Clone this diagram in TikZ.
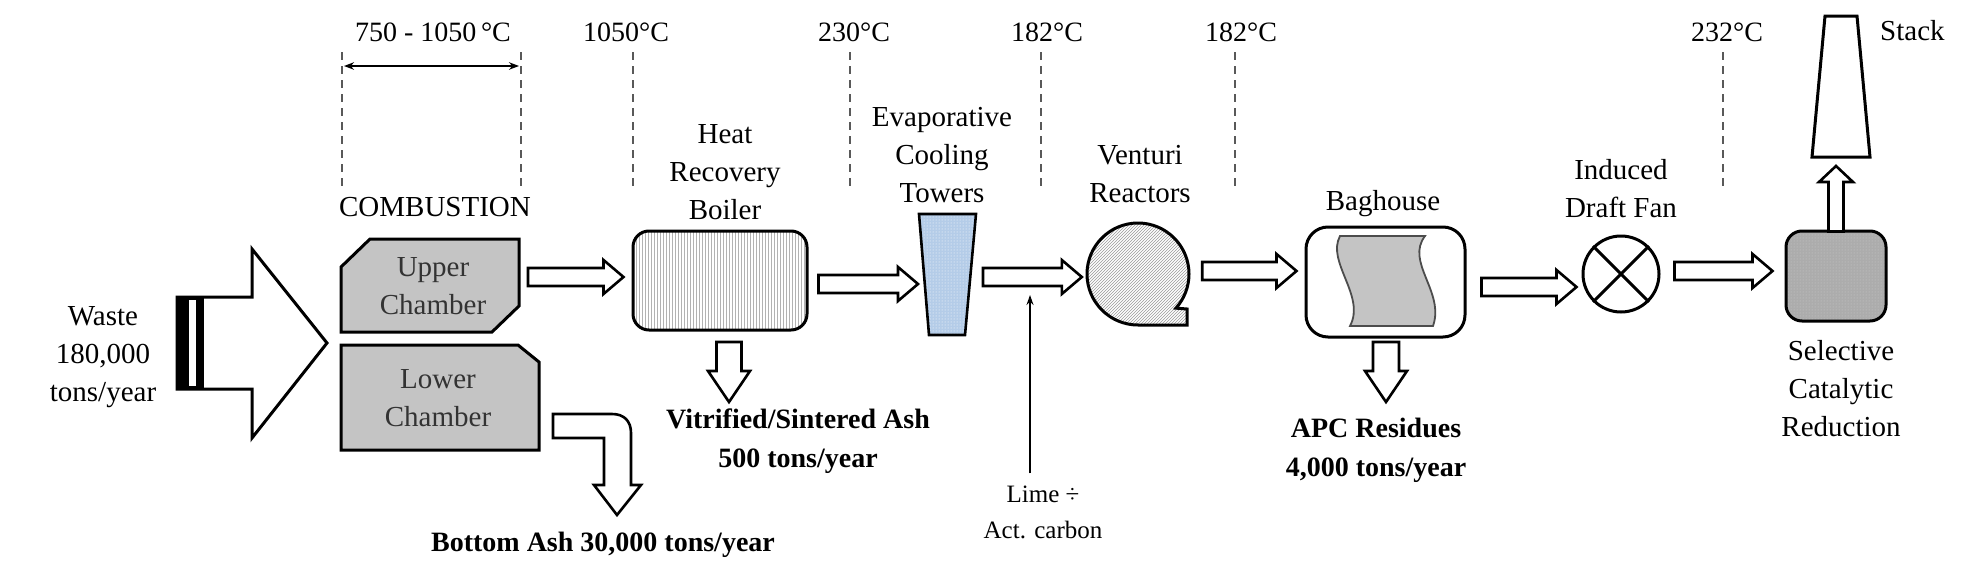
\documentclass[tikz,border=0pt]{standalone}
\usepackage{fontspec}
\setmainfont{Liberation Serif}
\usetikzlibrary{calc,patterns,arrows.meta}
\newcommand\hblk[2]{\draw[blk] let \p1=#1, \p2=#2 in (\x1,\y1+9pt) -- (\x2-20pt,\y1+9pt) -- (\x2-20pt,\y1+17pt) -- (\x2,\y1) -- (\x2-20pt,\y1-17pt) -- (\x2-20pt,\y1-9pt) -- (\x1,\y1-9pt) -- cycle;}
% start, tip, shaft half, head half, signed head length
\newcommand\vblk[5]{\draw[blk] let \p1=#1, \p2=#2 in (\x1-#3,\y1) -- (\x1-#3,\y2+#5) -- (\x1-#4,\y2+#5) -- (\x1,\y2) -- (\x1+#4,\y2+#5) -- (\x1+#3,\y2+#5) -- (\x1+#3,\y1) -- cycle;}
\definecolor{chgray}{HTML}{C4C4C4}
\definecolor{tblue}{HTML}{B4CCE8}
\begin{document}
\begin{tikzpicture}[x=1pt,y=-1pt,
  lbl/.style={font=\fontsize{29}{38}\selectfont,align=center,inner sep=0pt},
  tmp/.style={font=\fontsize{28}{34}\selectfont,inner sep=0pt},
  ash/.style={font=\fontsize{28}{39}\selectfont\bfseries,align=center,inner sep=0pt},
  blk/.style={draw=black,line width=2.6pt,fill=white,line join=miter},
  shp/.style={draw=black,line width=3pt},
  dsh/.style={line width=1.6pt,dash pattern=on 8pt off 6pt,gray!70!black}]
\useasboundingbox (0,0) rectangle (1982,565);
% temperatures
\node[tmp] (t1) at (433,32) {750 - 1050\,°C};
\node[tmp] (t2) at (626,32) {1050°C};
\node[tmp] (t3) at (854,32) {230°C};
\node[tmp] (t4) at (1047,32) {182°C};
\node[tmp] (t5) at (1241,32) {182°C};
\node[tmp] (t6) at (1727,32) {232°C};
\foreach \n/\x in {a/342,b/521,c/633,d/850,e/1041,f/1235,g/1723}{
  \coordinate (d\n1) at (\x,52); \coordinate (d\n2) at (\x,189);
  \draw[dsh] (d\n1) -- (d\n2);}
\draw[line width=1.6pt,{Stealth[length=10pt]}-{Stealth[length=10pt]}] ($(da1)+(2,14)$) -- ($(db1)+(-2,14)$);
\node[lbl] (comb) at (435,207) {COMBUSTION};
% waste
\node[lbl] (waste) at (103,357) {Waste\\180,000\\tons/year};
\draw[shp,fill=white,line join=miter] (177,297) -- (252,297) -- (252,249) -- (327,343) -- (252,438) -- (252,389) -- (177,389) -- cycle;
\fill (177,297) rectangle (204,389);
\fill[white] (189,300) rectangle (196,386);
% chambers
\draw[shp,fill=chgray] (341,267) -- (370,239) -- (519,239) -- (519,306) -- (492,332) -- (341,332) -- cycle;
\node[lbl,text=black!80] (up) at (433,286) {Upper\\Chamber};
\draw[shp,fill=chgray] (341,345) -- (518,345) -- (539,362) -- (539,450) -- (341,450) -- cycle;
\node[lbl,text=black!80] (low) at (438,398) {Lower\\Chamber};
\coordinate (upE) at (528,277);
% boiler
\node[shp,rounded corners=16pt,minimum width=174pt,minimum height=99pt,preaction={fill=white},pattern=vertical lines,pattern color=gray!60] (boil) at (720,280.5) {};
\node[lbl] (boilt) at (725,172) {Heat\\Recovery\\Boiler};
% tower
\draw[shp,line width=2.6pt,preaction={fill=tblue},pattern=dots,pattern color=white] (919,214) -- (976,214) -- (965,335) -- (929,335) -- cycle;
\coordinate (towW) at (918,277); \coordinate (towE) at (983,277);
\node[lbl] (towt) at (942,155) {Evaporative\\Cooling\\Towers};
% venturi
\node[circle,minimum size=102pt,inner sep=0pt] (ven) at (1138,274) {};
\begin{scope}[shift={(1138,274)},y=1pt]
\draw[shp,line join=miter,preaction={fill=white},pattern=north east lines,pattern color=gray!80] (0,-51) arc[start angle=-90,end angle=-402,radius=51] -- (49,-35) -- (49,-51) -- cycle;
\end{scope}
\node[lbl] (vent) at (1140,174) {Venturi\\Reactors};
% lime
\node[lbl,font=\fontsize{25}{36}\selectfont] (lime) at (1043,512) {Lime ÷\\Act. carbon};
\draw[line width=1.3pt,-{Stealth[length=10pt,width=7pt]}] ($(lime.north)+(-13,-12)$) -- (1030,295);
% baghouse
\node[shp,rounded corners=22pt,minimum width=159pt,minimum height=110pt,fill=white] (bag) at (1385.5,282) {};
\draw[line width=1.8pt,black!70,fill=chgray] (1340,236) -- (1425,236) .. controls (1405,262) and (1445,292) .. (1433,326) -- (1350,326) .. controls (1366,296) and (1326,262) .. cycle;
\node[lbl] (bagt) at (1383,204) {Baghouse};
% fan
\node[shp,circle,minimum size=76pt,inner sep=0pt,fill=white] (fan) at (1621,274) {};
\draw[line width=3pt] (fan.45) -- (fan.225) (fan.135) -- (fan.315);
\node[lbl] (fant) at (1621,189) {Induced\\Draft Fan};
% SCR
\node[shp,rounded corners=16pt,minimum width=100pt,minimum height=90pt,preaction={fill=gray!65},pattern=dots,pattern color=gray!40] (scr) at (1836,276) {};
\node[lbl] (scrt) at (1841,389) {Selective\\Catalytic\\Reduction};
% stack
\draw[shp] (1825,16) -- (1857,16) -- (1870,157) -- (1812,157) -- cycle;
\coordinate (stk) at (1839,166);
\node[lbl,anchor=west] (stkt) at (1880,31) {Stack};
% flow arrows
\hblk{(upE)}{([xshift=-8]boil.west)}
\hblk{([xshift=10,yshift=-3.5]boil.east)}{(towW)}
\hblk{(towE)}{([xshift=-5,yshift=3]ven.west)}
\hblk{([xshift=13,yshift=3]ven.east)}{([xshift=-8,yshift=-5]bag.west)}
\hblk{([xshift=15,yshift=-5]bag.east)}{([xshift=-5,yshift=3]fan.west)}
\hblk{([xshift=14,yshift=3]fan.east)}{([xshift=-12,yshift=1]scr.west)}
\vblk{(729,342)}{(729,402)}{12.5pt}{21pt}{31pt}
\vblk{(1386,342)}{(1386,402)}{13pt}{21pt}{31pt}
\vblk{([yshift=-2]scr.north)}{(stk)}{7.5pt}{17pt}{-16pt}
% bottom ash bent arrow
\draw[blk] (553,414) -- (612,414) .. controls (624,414) and (631,421) .. (631,433) -- (631,485) -- (641,485) -- (617,515) -- (594,485) -- (604,485) -- (604,438) -- (553,438) -- cycle;
% ash labels
\node[ash] (bash) at (603,545) {Bottom Ash 30,000 tons/year};
\node[ash] (vash) at (798,441) {Vitrified/Sintered Ash\\500 tons/year};
\node[ash] (apc) at (1376,450) {APC Residues\\4,000 tons/year};
\end{tikzpicture}
\end{document}
